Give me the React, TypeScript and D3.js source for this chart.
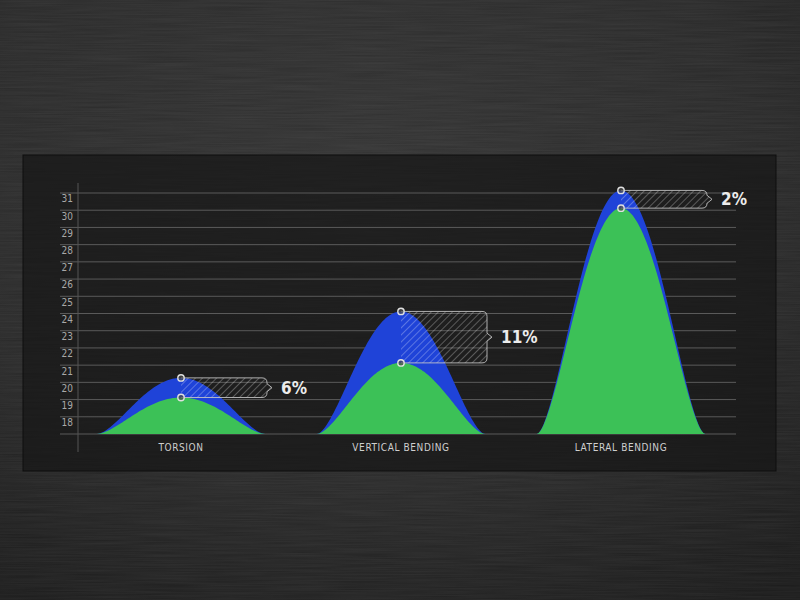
import React from 'react';
import * as d3 from 'd3';

const categories = ['TORSION', 'VERTICAL BENDING', 'LATERAL BENDING'];
const baseValues = [19.12, 21.13, 30.12]; // green peaks
const topValues = [20.26, 24.12, 31.15]; // blue peaks
const percentLabels = ['6%', '11%', '2%'];
const yTickLabels = [18, 19, 20, 21, 22, 23, 24, 25, 26, 27, 28, 29, 30, 31];
const gridValues = [17, 18, 19, 20, 21, 22, 23, 24, 25, 26, 27, 28, 29, 30, 31];

const W = 800;
const H = 600;
const FONT = "'DejaVu Sans Condensed', 'Liberation Sans Narrow', Roboto, sans-serif";

// bell shape (rendering style only): relative height at relative distance t from centre
const bellShape = (t: number) => Math.pow(Math.max(0, 1 - t * t), 1.7);
const shapeSteps = d3.range(-1, 1.0001, 0.02);

export default function App() {
  const y = d3.scaleLinear().domain([17, 31]).range([434, 193]);
  const x = d3.scaleBand<string>().domain(categories).range([71, 731]).padding(0);
  const bw = x.bandwidth();
  const halfW = bw * 0.382;

  const makeArea = (cx: number, peak: number) =>
    d3
      .area<number>()
      .x((t) => cx + t * halfW)
      .y0(y(17))
      .y1((t) => y(17 + (peak - 17) * bellShape(t)))
      .curve(d3.curveLinear)(shapeSteps) || '';

  const callW = 86;
  const r = 5;

  return (
    <div style={{ position: 'absolute', left: 0, top: 0 }}>
      <svg width={W} height={H} style={{ display: 'block' }}>
        <defs>
          <radialGradient id="bg" cx="45%" cy="30%" r="85%">
            <stop offset="0%" stopColor="#333333" />
            <stop offset="60%" stopColor="#292929" />
            <stop offset="100%" stopColor="#1a1a1a" />
          </radialGradient>
          <filter id="grain" x="0" y="0" width="100%" height="100%">
            <feTurbulence type="fractalNoise" baseFrequency="0.015 0.7" numOctaves={2} seed={3} />
            <feColorMatrix type="matrix" values="0 0 0 0 1  0 0 0 0 1  0 0 0 0 1  0 0 0 0.07 0" />
          </filter>
          <pattern id="hatch" patternUnits="userSpaceOnUse" width={5} height={5} patternTransform="rotate(45)">
            <line x1={0} y1={0} x2={0} y2={5} stroke="#ffffff" strokeOpacity={0.45} strokeWidth={1.2} />
          </pattern>
        </defs>
        <rect x={0} y={0} width={W} height={H} fill="url(#bg)" />
        <rect x={0} y={0} width={W} height={H} filter="url(#grain)" />
        <rect x={23} y={155} width={753} height={316} fill="#151515" fillOpacity={0.7} stroke="#0e0e0e" strokeWidth={1} />

        {/* grid */}
        {gridValues.map((v) => (
          <line key={v} x1={60} x2={736} y1={y(v)} y2={y(v)} stroke="#5a5a5a" strokeWidth={1} />
        ))}
        <line x1={78} x2={78} y1={183} y2={452} stroke="#555" strokeWidth={1} />
        {yTickLabels.map((v) => (
          <text key={v} x={73} y={y(v - 0.37)} textAnchor="end" dominantBaseline="middle" fontSize={10} fill="#a8a8a8" fontFamily={FONT}>
            {v}
          </text>
        ))}

        {/* curves */}
        {categories.map((c, i) => {
          const cx = (x(c) || 0) + bw / 2;
          return (
            <g key={c}>
              <path d={makeArea(cx, topValues[i])} fill="#1f43d8" />
              <path d={makeArea(cx, baseValues[i])} fill="#3cc157" />
            </g>
          );
        })}

        {/* callouts */}
        {categories.map((c, i) => {
          const cx = (x(c) || 0) + bw / 2;
          const yt = y(topValues[i]);
          const yb = y(baseValues[i]);
          const x1 = cx + callW;
          const ym = (yt + yb) / 2;
          const d = `M${cx},${yt} H${x1 - r} Q${x1},${yt} ${x1},${yt + r} V${ym - 4} L${x1 + 5},${ym} L${x1},${ym + 4} V${yb - r} Q${x1},${yb} ${x1 - r},${yb} H${cx}`;
          return (
            <g key={c + 'c'}>
              <path d={d + ' Z'} fill="url(#hatch)" stroke="none" />
              <path d={d} fill="none" stroke="#c8c8c8" strokeOpacity={0.85} strokeWidth={1} />
              <circle cx={cx} cy={yt} r={3.2} fill="#4a4a4a" fillOpacity={0.7} stroke="#e0e0e0" strokeWidth={1.4} />
              <circle cx={cx} cy={yb} r={3.2} fill="#4a4a4a" fillOpacity={0.7} stroke="#e0e0e0" strokeWidth={1.4} />
              <text x={x1 + 14} y={ym + 1} dominantBaseline="middle" fontSize={17} fontWeight="bold" fill="#ececec" fontFamily={FONT}>
                {percentLabels[i]}
              </text>
            </g>
          );
        })}

        {/* category labels */}
        {categories.map((c) => (
          <text key={c + 'l'} x={(x(c) || 0) + bw / 2} y={448} textAnchor="middle" dominantBaseline="middle" fontSize={10} fill="#cfcfcf" letterSpacing={0.6} fontFamily={FONT}>
            {c}
          </text>
        ))}
      </svg>
    </div>
  );
}
